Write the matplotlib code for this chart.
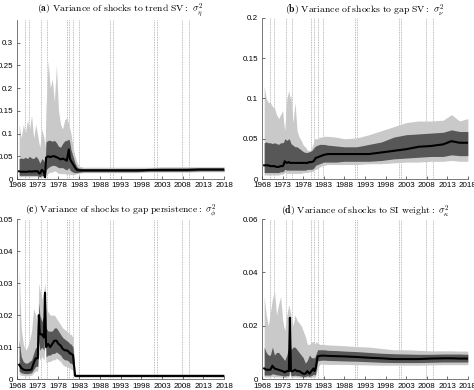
import matplotlib
matplotlib.use('Agg')
import matplotlib.pyplot as plt
from matplotlib.ticker import FormatStrFormatter

plt.rcParams['font.family'] = 'Liberation Sans'
plt.rcParams['mathtext.fontset'] = 'cm'

# time points (years)
dates = [1968.5, 1969.0, 1969.5, 1970.0, 1970.5, 1971.0, 1971.5, 1972.0, 1972.5, 1973.0,
         1973.25, 1973.5, 1974.0, 1974.5, 1974.75, 1975.0, 1975.5, 1976.0, 1976.5, 1977.0,
         1977.5, 1978.0, 1978.5, 1979.0, 1979.5, 1980.0, 1980.5, 1980.75, 1981.0, 1981.5,
         1982.0, 1982.5, 1983.0, 1984.0, 1986.0, 1988.0, 1991.0, 1994.0, 1997.0, 2000.0,
         2003.0, 2006.0, 2009.0, 2012.0, 2014.0, 2016.0, 2018.0]

# NBER recession start / end dates
recessions = [1969.92, 1970.83, 1973.83, 1975.17, 1980.0, 1980.5, 1981.5, 1982.83,
              1990.5, 1991.17, 2001.17, 2001.83, 2007.92, 2009.42]

# (a) trend SV
a_med = [.017, .016, .016, .016, .016, .017, .016, .017, .017, .017,
         .013, .012, .020, .015, .004, .047, .050, .048, .050, .050,
         .048, .046, .043, .045, .043, .040, .065, .045, .040, .033,
         .025, .020, .019, .019, .019, .019, .019, .019, .019, .020,
         .020, .020, .020, .021, .021, .021, .021]
a_lo68 = [.008, .008, .008, .008, .008, .008, .008, .008, .008, .008,
          .006, .005, .008, .006, .002, .020, .025, .028, .030, .030,
          .028, .025, .025, .025, .022, .020, .025, .020, .018, .015,
          .014, .014, .015, .016, .016, .016, .016, .016, .016, .017,
          .017, .017, .017, .018, .018, .018, .018]
a_hi68 = [.045, .046, .045, .048, .045, .050, .046, .045, .050, .045,
          .040, .035, .045, .040, .030, .082, .085, .085, .083, .085,
          .080, .072, .070, .078, .084, .085, .088, .080, .065, .050,
          .035, .026, .024, .023, .023, .023, .023, .023, .023, .023,
          .024, .024, .024, .024, .024, .024, .024]
a_lo90 = [.005, .005, .005, .005, .005, .005, .005, .005, .005, .005,
          .004, .003, .005, .004, .001, .010, .012, .015, .015, .018,
          .016, .012, .012, .012, .012, .010, .012, .010, .010, .010,
          .010, .012, .013, .014, .014, .014, .014, .014, .014, .015,
          .015, .015, .015, .016, .016, .016, .016]
a_hi90 = [.120, .090, .120, .100, .130, .110, .140, .090, .120, .095,
          .080, .070, .110, .090, .070, .160, .260, .200, .220, .170,
          .250, .150, .120, .110, .130, .135, .120, .110, .100, .070,
          .050, .035, .028, .026, .026, .026, .026, .026, .026, .026,
          .027, .027, .027, .027, .027, .027, .027]

# (b) gap SV
b_med = [.017, .017, .017, .016, .016, .016, .015, .015, .016, .016,
         .018, .022, .020, .021, .020, .020, .020, .020, .020, .020,
         .020, .020, .020, .020, .021, .021, .022, .024, .026, .027,
         .028, .029, .030, .031, .031, .031, .031, .031, .033, .035,
         .037, .040, .041, .043, .047, .045, .045]
b_lo68 = [.008, .008, .008, .008, .008, .008, .008, .008, .009, .009,
          .010, .012, .011, .011, .011, .011, .011, .011, .011, .011,
          .011, .011, .011, .012, .012, .012, .013, .015, .017, .018,
          .019, .020, .021, .021, .021, .022, .022, .022, .023, .025,
          .026, .027, .028, .028, .030, .029, .029]
b_hi68 = [.045, .046, .045, .045, .044, .045, .044, .043, .045, .045,
          .046, .050, .048, .050, .048, .044, .042, .040, .040, .038,
          .036, .034, .033, .033, .034, .035, .038, .040, .041, .042,
          .043, .043, .043, .042, .041, .040, .040, .043, .046, .052,
          .055, .056, .057, .058, .061, .059, .059]
b_lo90 = [.005, .005, .005, .005, .005, .005, .005, .005, .006, .006,
          .007, .008, .007, .007, .007, .007, .007, .007, .007, .007,
          .007, .008, .008, .008, .009, .009, .010, .011, .012, .013,
          .015, .016, .017, .018, .018, .018, .018, .019, .019, .020,
          .021, .021, .022, .022, .023, .022, .022]
b_hi90 = [.115, .100, .095, .095, .090, .088, .080, .075, .080, .085,
          .070, .060, .100, .110, .100, .105, .070, .095, .060, .052,
          .048, .042, .040, .036, .035, .038, .045, .050, .050, .050,
          .052, .052, .053, .053, .052, .050, .051, .055, .060, .065,
          .070, .072, .072, .073, .080, .072, .075]

# (c) gap persistence
c_med = [.0045, .0035, .0030, .0028, .0028, .0028, .0030, .0050, .0065, .0065,
         .0200, .0140, .0140, .0130, .0270, .0100, .0110, .0100, .0110, .0120,
         .0120, .0110, .0105, .0095, .0090, .0090, .0085, .0080, .0080, .0075,
         .0010, .0010, .0010, .0010, .0010, .0010, .0010, .0010, .0010, .0010,
         .0010, .0010, .0010, .0010, .0010, .0010, .0010]
c_lo68 = [.0025, .0020, .0018, .0017, .0017, .0018, .0020, .0030, .0040, .0040,
          .0120, .0090, .0100, .0090, .0180, .0070, .0075, .0075, .0080, .0080,
          .0085, .0080, .0075, .0065, .0060, .0060, .0055, .0050, .0050, .0045,
          .0008, .0008, .0008, .0008, .0008, .0008, .0008, .0008, .0008, .0008,
          .0008, .0008, .0008, .0008, .0008, .0008, .0008]
c_hi68 = [.0120, .0070, .0055, .0050, .0050, .0055, .0060, .0080, .0100, .0090,
          .0240, .0200, .0180, .0200, .0280, .0160, .0150, .0150, .0150, .0160,
          .0160, .0150, .0140, .0130, .0125, .0120, .0115, .0110, .0110, .0100,
          .0013, .0013, .0013, .0013, .0013, .0013, .0013, .0013, .0013, .0013,
          .0013, .0013, .0013, .0013, .0013, .0013, .0013]
c_lo90 = [.0015, .0012, .0011, .0010, .0010, .0011, .0012, .0020, .0025, .0025,
          .0080, .0060, .0070, .0060, .0120, .0050, .0055, .0055, .0060, .0060,
          .0065, .0060, .0055, .0045, .0040, .0040, .0035, .0035, .0030, .0030,
          .0006, .0006, .0006, .0006, .0006, .0006, .0006, .0006, .0006, .0006,
          .0006, .0006, .0006, .0006, .0006, .0006, .0006]
c_hi90 = [.0340, .0160, .0110, .0090, .0100, .0120, .0150, .0220, .0200, .0150,
          .0300, .0280, .0250, .0280, .0300, .0220, .0210, .0200, .0200, .0200,
          .0190, .0180, .0170, .0160, .0155, .0150, .0145, .0140, .0140, .0130,
          .0016, .0015, .0015, .0015, .0015, .0015, .0015, .0015, .0015, .0015,
          .0015, .0015, .0015, .0015, .0015, .0015, .0015]

# (d) SI weight
d_med = [.0040, .0035, .0035, .0035, .0050, .0040, .0037, .0035, .0032, .0030,
         .0028, .0025, .0030, .0030, .0230, .0030, .0030, .0035, .0030, .0030,
         .0025, .0020, .0020, .0030, .0020, .0030, .0040, .0030, .0040, .0085,
         .0087, .0088, .0088, .0087, .0086, .0085, .0083, .0080, .0078, .0075,
         .0075, .0075, .0077, .0078, .0078, .0077, .0077]
d_lo68 = [.0015, .0015, .0015, .0015, .0020, .0018, .0016, .0015, .0014, .0013,
          .0012, .0011, .0013, .0013, .0050, .0013, .0013, .0015, .0013, .0013,
          .0011, .0010, .0010, .0013, .0010, .0013, .0018, .0015, .0020, .0068,
          .0070, .0071, .0071, .0070, .0069, .0068, .0067, .0065, .0063, .0062,
          .0062, .0062, .0063, .0064, .0064, .0064, .0064]
d_hi68 = [.0120, .0100, .0090, .0090, .0120, .0090, .0100, .0100, .0090, .0080,
          .0075, .0070, .0090, .0120, .0160, .0110, .0120, .0120, .0110, .0100,
          .0090, .0080, .0060, .0070, .0090, .0080, .0080, .0080, .0090, .0110,
          .0110, .0110, .0110, .0108, .0107, .0105, .0103, .0100, .0097, .0095,
          .0094, .0093, .0093, .0094, .0094, .0094, .0093]
d_lo90 = [.0008, .0008, .0008, .0008, .0010, .0009, .0008, .0008, .0007, .0007,
          .0006, .0006, .0007, .0007, .0020, .0007, .0007, .0008, .0007, .0007,
          .0006, .0005, .0005, .0007, .0005, .0007, .0009, .0008, .0010, .0040,
          .0055, .0057, .0056, .0055, .0055, .0055, .0054, .0053, .0052, .0052,
          .0052, .0052, .0053, .0054, .0054, .0054, .0054]
d_hi90 = [.0310, .0240, .0200, .0250, .0300, .0330, .0240, .0280, .0310, .0220,
          .0200, .0180, .0240, .0280, .0260, .0240, .0200, .0240, .0220, .0210,
          .0200, .0180, .0160, .0130, .0130, .0140, .0140, .0130, .0140, .0135,
          .0130, .0130, .0130, .0128, .0127, .0125, .0122, .0120, .0115, .0110,
          .0110, .0108, .0106, .0106, .0106, .0105, .0105]

years = list(range(1968, 2019, 5))
light = '#c9c9c9'
dark = '#575757'

fig = plt.figure(figsize=(4.74, 3.9), dpi=100)


def panel(rect, med, lo68, hi68, lo90, hi90, ymax, yticks, title):
    ax = fig.add_axes(rect)
    for r in recessions:
        ax.axvline(r, color='#a8a8a8', lw=0.6, ls=(0, (1, 1)), zorder=0)
    ax.fill_between(dates, lo90, hi90, color=light, lw=0, zorder=1)
    ax.fill_between(dates, lo68, hi68, color=dark, lw=0, zorder=2)
    ax.plot(dates, med, color='black', lw=1.5, zorder=3)
    ax.set_xlim(1968, 2018)
    ax.set_ylim(0, ymax)
    ax.set_xticks(years)
    ax.set_yticks(yticks)
    ax.yaxis.set_major_formatter(FormatStrFormatter('%g'))
    for s in ['top', 'right']:
        ax.spines[s].set_visible(False)
    for s in ['left', 'bottom']:
        ax.spines[s].set_linewidth(0.5)
        ax.spines[s].set_color('#444444')
    ax.tick_params(direction='in', length=2, width=0.4, labelsize=5.8)
    ax.tick_params(axis='x', pad=2.5)
    ax.tick_params(axis='y', pad=3)
    ax.set_title(title, fontsize=7, pad=4)
    return ax


panel([0.036, 0.541, 0.437, 0.408], a_med, a_lo68, a_hi68, a_lo90, a_hi90,
      0.35, [0, 0.05, 0.1, 0.15, 0.2, 0.25, 0.3],
      r'$\mathbf{(a)}\ \mathrm{Variance\ of\ shocks\ to\ trend\ SV:}\ \sigma^2_\eta$')
panel([0.553, 0.541, 0.434, 0.413], b_med, b_lo68, b_hi68, b_lo90, b_hi90,
      0.2, [0, 0.05, 0.1, 0.15, 0.2],
      r'$\mathbf{(b)}\ \mathrm{Variance\ of\ shocks\ to\ gap\ SV:}\ \sigma^2_\nu$')
panel([0.036, 0.028, 0.437, 0.410], c_med, c_lo68, c_hi68, c_lo90, c_hi90,
      0.05, [0, 0.01, 0.02, 0.03, 0.04, 0.05],
      r'$\mathbf{(c)}\ \mathrm{Variance\ of\ shocks\ to\ gap\ persistence:}\ \sigma^2_\phi$')
panel([0.553, 0.028, 0.434, 0.410], d_med, d_lo68, d_hi68, d_lo90, d_hi90,
      0.06, [0, 0.02, 0.04, 0.06],
      r'$\mathbf{(d)}\ \mathrm{Variance\ of\ shocks\ to\ SI\ weight:}\ \sigma^2_\kappa$')

plt.savefig('out.png', dpi=100)
